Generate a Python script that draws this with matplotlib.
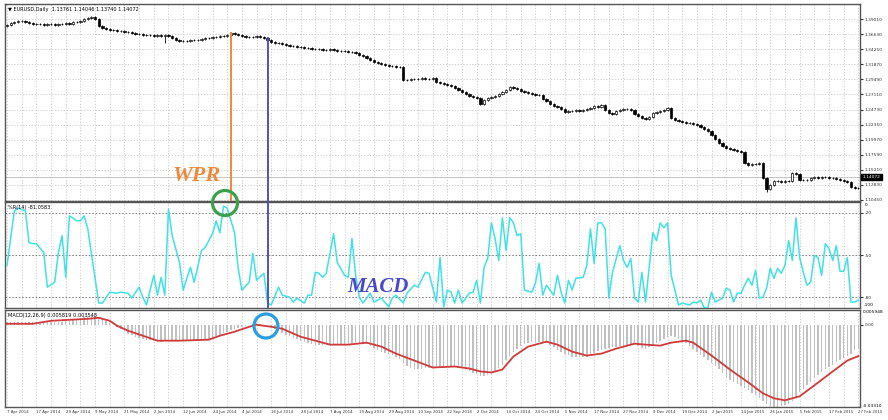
import numpy as np
import matplotlib
matplotlib.use("Agg")
import matplotlib.pyplot as plt
from matplotlib.patches import Circle
from matplotlib.transforms import blended_transform_factory

# --- price data (daily closes) ---
closes = [
    1.3806, 1.3838, 1.3854, 1.3869, 1.3869, 1.3854, 1.3838, 1.3822, 1.3822, 1.3822,
    1.3806, 1.3822, 1.3822, 1.3806, 1.3822, 1.3822, 1.3838, 1.3822, 1.3854, 1.3854,
    1.3869, 1.3901, 1.3917, 1.3933, 1.3901, 1.3791, 1.3759, 1.3743, 1.3727, 1.3727,
    1.3712, 1.3712, 1.3696, 1.3696, 1.3680, 1.3664, 1.3664, 1.3649, 1.3649, 1.3649,
    1.3633, 1.3649, 1.3633, 1.3649, 1.3633, 1.3601, 1.3570, 1.3554, 1.3554, 1.3554,
    1.3570, 1.3570, 1.3570, 1.3585, 1.3601, 1.3601, 1.3617, 1.3617, 1.3633, 1.3633,
    1.3649, 1.3680, 1.3664, 1.3649, 1.3633, 1.3617, 1.3617, 1.3617, 1.3633, 1.3617,
    1.3601, 1.3570, 1.3538, 1.3522, 1.3522, 1.3506, 1.3491, 1.3475, 1.3475, 1.3459,
    1.3459, 1.3443, 1.3443, 1.3428, 1.3428, 1.3428, 1.3412, 1.3412, 1.3428, 1.3412,
    1.3396, 1.3396, 1.3396, 1.3380, 1.3380, 1.3364, 1.3333, 1.3317, 1.3285, 1.3254,
    1.3222, 1.3206, 1.3191, 1.3175, 1.3159, 1.3159, 1.3143, 1.3143, 1.2938, 1.2938,
    1.2954, 1.2954, 1.2954, 1.2970, 1.2954, 1.2954, 1.2970, 1.2907, 1.2891, 1.2875,
    1.2860, 1.2844, 1.2812, 1.2781, 1.2749, 1.2717, 1.2686, 1.2670, 1.2654, 1.2560,
    1.2623, 1.2654, 1.2670, 1.2686, 1.2717, 1.2749, 1.2781, 1.2828, 1.2812, 1.2796,
    1.2765, 1.2749, 1.2733, 1.2717, 1.2702, 1.2702, 1.2639, 1.2607, 1.2560, 1.2528,
    1.2512, 1.2481, 1.2433, 1.2449, 1.2449, 1.2465, 1.2449, 1.2465, 1.2481, 1.2497,
    1.2528, 1.2512, 1.2544, 1.2465, 1.2418, 1.2402, 1.2449, 1.2465, 1.2481, 1.2481,
    1.2465, 1.2402, 1.2370, 1.2339, 1.2323, 1.2355, 1.2418, 1.2433, 1.2449, 1.2465,
    1.2497, 1.2339, 1.2307, 1.2291, 1.2276, 1.2260, 1.2260, 1.2244, 1.2228, 1.2197,
    1.2165, 1.2134, 1.2071, 1.2007, 1.1944, 1.1897, 1.1865, 1.1850, 1.1834, 1.1818,
    1.1802, 1.1629, 1.1597, 1.1613, 1.1613, 1.1629, 1.1392, 1.1218, 1.1281, 1.1345,
    1.1345, 1.1329, 1.1345, 1.1345, 1.1471, 1.1455, 1.1360, 1.1360, 1.1360, 1.1392,
    1.1408, 1.1392, 1.1408, 1.1408, 1.1392, 1.1392, 1.1376, 1.1360, 1.1345, 1.1329,
    1.1250, 1.1234, 1.1234,
]
first_open = 1.3790
long_wick_bars = [43, 207]
long_wick_lows = [1.3522, 1.1170]
bid_price = 1.14072

price_labels = ["1.39010", "1.36630", "1.34250", "1.31870", "1.29490", "1.27110", "1.24730",
                "1.22350", "1.19970", "1.17590", "1.15210", "1.12830", "1.10450"]

date_labels = ["7 Apr 2014", "17 Apr 2014", "29 Apr 2014", "9 May 2014", "21 May 2014",
               "2 Jun 2014", "12 Jun 2014", "24 Jun 2014", "4 Jul 2014", "16 Jul 2014",
               "28 Jul 2014", "7 Aug 2014", "19 Aug 2014", "29 Aug 2014", "10 Sep 2014",
               "22 Sep 2014", "2 Oct 2014", "14 Oct 2014", "24 Oct 2014", "5 Nov 2014",
               "17 Nov 2014", "27 Nov 2014", "9 Dec 2014", "19 Dec 2014", "2 Jan 2015",
               "14 Jan 2015", "26 Jan 2015", "5 Feb 2015", "17 Feb 2015", "27 Feb 2015"]

# --- Williams %R (bar, value) ---
wpr_bars = [0, 2, 3, 5, 6, 7, 8, 10, 11, 13, 14, 15, 16, 17, 19, 20, 21, 22, 25, 26,
            28, 30, 31, 33, 34, 36, 37, 38, 40, 41, 42, 43, 44, 45, 47, 48, 49, 50, 51, 53,
            54, 56, 57, 58, 59, 60, 62, 63, 64, 66, 67, 68, 70, 71, 72, 74, 75, 77, 78, 79,
            81, 82, 83, 84, 85, 86, 87, 89, 90, 92, 93, 94, 95, 96, 97, 99, 100, 102, 104, 105,
            106, 108, 109, 111, 112, 114, 115, 117, 118, 119, 120, 121, 122, 123, 124, 125, 126, 127, 128, 129,
            130, 131, 132, 133, 134, 135, 136, 137, 138, 139, 140, 141, 143, 144, 145, 146, 147, 149, 150, 151,
            152, 153, 154, 155, 157, 158, 159, 160, 161, 162, 163, 164, 165, 167, 168, 169, 170, 171, 172, 173,
            174, 175, 176, 177, 178, 179, 180, 181, 183, 184, 186, 187, 188, 189, 190, 191, 192, 193, 194, 195,
            196, 197, 198, 199, 200, 201, 202, 203, 204, 205, 206, 207, 208, 209, 210, 211, 212, 213, 214, 215,
            216, 217, 218, 219, 220, 221, 222, 223, 224, 225, 226, 227, 228, 229, 230, 231, 232]
wpr_vals = [-57.4, -18.6, -16.5, -18.6, -41.2, -41.9, -41.9, -48.2, -72.9, -69.4, -48.2, -36.2, -65.9, -22.1, -25.6, -25.6, -22.1, -31.3, -84.2, -84.2,
            -76.5, -77.2, -76.5, -77.2, -80.7, -72.9, -80.0, -85.6, -64.5, -78.6, -65.9, -78.6, -17.2, -36.2, -55.3, -75.0, -66.6, -58.8, -69.4, -46.8,
            -44.7, -34.8, -25.6, -34.1, -15.1, -16.5, -34.1, -59.5, -75.0, -69.4, -48.9, -68.0, -63.0, -84.2, -85.6, -72.9, -78.6, -80.0, -83.5, -80.7,
            -84.2, -78.6, -78.6, -62.3, -63.0, -65.9, -63.0, -34.8, -55.3, -64.5, -65.9, -38.3, -64.5, -80.0, -84.2, -77.2, -83.5, -80.7, -87.0, -80.7,
            -78.6, -84.2, -77.2, -71.5, -72.9, -62.3, -63.0, -83.5, -51.8, -87.0, -75.0, -76.5, -84.2, -75.0, -84.2, -80.7, -77.2, -76.5, -68.0, -84.2,
            -58.8, -52.5, -27.1, -38.3, -53.9, -23.5, -46.8, -23.5, -27.1, -36.2, -34.8, -75.0, -76.5, -70.1, -56.0, -78.6, -71.5, -78.6, -64.5, -76.5,
            -84.2, -68.0, -75.0, -66.6, -65.9, -57.4, -31.3, -56.0, -27.1, -27.1, -31.3, -80.7, -62.3, -43.3, -53.9, -58.8, -52.5, -80.7, -83.5, -62.3,
            -83.5, -58.8, -34.1, -39.8, -27.1, -30.6, -27.1, -64.5, -85.6, -84.2, -85.6, -83.5, -84.2, -82.1, -87.5, -87.5, -76.5, -83.5, -82.1, -80.7,
            -73.6, -75.0, -83.5, -77.2, -77.2, -71.5, -66.6, -71.5, -60.9, -80.7, -80.0, -73.6, -59.5, -66.6, -59.5, -63.0, -57.4, -39.8, -53.9, -23.5,
            -51.8, -62.3, -71.5, -69.4, -50.3, -51.8, -64.5, -41.9, -45.4, -53.9, -43.3, -61.6, -61.6, -51.8, -83.5, -83.5, -82.1]

# --- MACD main (histogram, one per bar) and signal (bar, value) ---
macd_hist = [
    0.0010, 0.0011, 0.0012, 0.0012, 0.0013, 0.0012, 0.0012, 0.0011, 0.0011, 0.0010,
    0.0010, 0.0010, 0.0011, 0.0011, 0.0012, 0.0013, 0.0014, 0.0016,
    0.0020, 0.0024, 0.0028, 0.0031, 0.0034, 0.0036, 0.0035, 0.0032, 0.0024, 0.0016, 0.0008, 0.0000,
    -0.0008, -0.0016, -0.0026, -0.0036, -0.0042, -0.0048, -0.0052, -0.0056, -0.0060, -0.0063, -0.0066, -0.0068,
    -0.0068, -0.0067, -0.0066, -0.0065, -0.0064, -0.0064, -0.0063, -0.0063, -0.0062, -0.0062, -0.0061, -0.0061, -0.0060, -0.0060,
    -0.0054, -0.0047, -0.0040, -0.0034, -0.0028, -0.0022, -0.0016, -0.0012, -0.0008, -0.0004, 0.0000, 0.0004, 0.0008,
    0.0004, 0.0000, -0.0004, -0.0008, -0.0016, -0.0024, -0.0032, -0.0040, -0.0046, -0.0052, -0.0058, -0.0064,
    -0.0068, -0.0072, -0.0076, -0.0080, -0.0080, -0.0080, -0.0080, -0.0080, -0.0079, -0.0080, -0.0080, -0.0080,
    -0.0080, -0.0079, -0.0078, -0.0077, -0.0076, -0.0076,
    -0.0084, -0.0092, -0.0100, -0.0108, -0.0112, -0.0118, -0.0122, -0.0128, -0.0136, -0.0152, -0.0166, -0.0176, -0.0180,
    -0.0180, -0.0178, -0.0176, -0.0174, -0.0172, -0.0170, -0.0168, -0.0166, -0.0164, -0.0164, -0.0164,
    -0.0170, -0.0176, -0.0182, -0.0188, -0.0194, -0.0200, -0.0208, -0.0206, -0.0204, -0.0200,
    -0.0188, -0.0174, -0.0160, -0.0142, -0.0124, -0.0108, -0.0096, -0.0086, -0.0078, -0.0072,
    -0.0070, -0.0069, -0.0068, -0.0070, -0.0072, -0.0080, -0.0090, -0.0100,
    -0.0108, -0.0116, -0.0122, -0.0128, -0.0130, -0.0130, -0.0129, -0.0128,
    -0.0122, -0.0114, -0.0106, -0.0100, -0.0096, -0.0092, -0.0090, -0.0088,
    -0.0086, -0.0084, -0.0082, -0.0080, -0.0080, -0.0086, -0.0092, -0.0096,
    -0.0088, -0.0080, -0.0072, -0.0064, -0.0056, -0.0050, -0.0044,
    -0.0048, -0.0056, -0.0064, -0.0072, -0.0084, -0.0096,
    -0.0108, -0.0120, -0.0130, -0.0140, -0.0152, -0.0166, -0.0180, -0.0194, -0.0210, -0.0224,
    -0.0232, -0.0240, -0.0248, -0.0256, -0.0264, -0.0274, -0.0284, -0.0296, -0.0308, -0.0318, -0.0326, -0.0330,
    -0.0329, -0.0327, -0.0324, -0.0320, -0.0306, -0.0290, -0.0272, -0.0258, -0.0244, -0.0230, -0.0216,
    -0.0204, -0.0192, -0.0180, -0.0170, -0.0160, -0.0150, -0.0142, -0.0134, -0.0124, -0.0116, -0.0100, -0.0096,
]
signal_bars = [0, 7, 12, 17, 22, 25, 28, 30, 33, 37, 41, 47, 55, 58, 62, 66, 68, 72, 75, 80,
               84, 88, 93, 98, 102, 106, 111, 116, 122, 126, 129, 132, 135, 138, 142, 147, 150, 154, 158, 162,
               166, 171, 174, 178, 181, 185, 187, 192, 197, 202, 206, 209, 212, 216, 220, 225, 229, 232]
signal_vals = [0.0004, 0.0004, 0.0016, 0.0020, 0.0024, 0.0028, 0.0016, -0.0004, -0.0024, -0.0044,
               -0.0064, -0.0064, -0.0060, -0.0044, -0.0028, -0.0008, 0.0000, -0.0008, -0.0016, -0.0048,
               -0.0064, -0.0080, -0.0080, -0.0072, -0.0088, -0.0116, -0.0144, -0.0172, -0.0168, -0.0176,
               -0.0188, -0.0192, -0.0180, -0.0128, -0.0088, -0.0068, -0.0080, -0.0108, -0.0124, -0.0116,
               -0.0096, -0.0076, -0.0080, -0.0084, -0.0072, -0.0064, -0.0072, -0.0124, -0.0180, -0.0232,
               -0.0276, -0.0296, -0.0304, -0.0288, -0.0244, -0.0188, -0.0144, -0.0126]

W, H = 888, 420


def px_rect(x0, y0, x1, y1):
    return [x0 / W, 1 - y1 / H, (x1 - x0) / W, (y1 - y0) / H]


fig = plt.figure(figsize=(W / 100, H / 100), dpi=100)
ax = fig.add_axes(px_rect(5, 4, 860, 201))
ax_w = fig.add_axes(px_rect(5, 202, 860, 308), sharex=ax)
ax_m = fig.add_axes(px_rect(5, 310, 860, 407), sharex=ax)

n = len(closes)
bars = np.arange(n)
c = np.array(closes)
o = np.r_[first_open, c[:-1]]
wick = 0.0012
hi = np.maximum(o, c) + wick
lo = np.minimum(o, c) - wick
for b, v in zip(long_wick_bars, long_wick_lows):
    lo[b] = v

lab_fs = 3.2
grid_kw = dict(color="#c8c8c8", linestyle=(0, (1.5, 2)), linewidth=0.6)
for a in (ax, ax_w, ax_m):
    a.set_facecolor("white")
    for s in a.spines.values():
        s.set_color("#555555")
        s.set_linewidth(1.0)
    a.yaxis.tick_right()
    a.tick_params(axis="y", labelsize=lab_fs, length=2, pad=1.2, colors="#333333")
    a.tick_params(axis="x", length=0, labelbottom=False)
    a.set_xticks(np.arange(0, n, 4))
    a.grid(axis="x", **grid_kw)
    a.set_axisbelow(True)
ax.set_xlim(-0.55, 232.45)

# candles
body_h = np.maximum(np.abs(c - o), 0.0003)
face = np.where(c >= o, "white", "black")
ax.vlines(bars, lo, hi, color="black", linewidth=0.6, zorder=2)
ax.bar(bars, body_h, bottom=np.minimum(o, c), width=0.62, color=face,
       edgecolor="black", linewidth=0.5, zorder=3)
ax.set_ylim(1.1029, 1.4138)
ax.set_yticks([float(p) for p in price_labels])
ax.set_yticklabels(price_labels)
ax.grid(axis="y", **grid_kw)
ax.axhline(bid_price, color="#bbbbbb", linewidth=0.6, zorder=1)
tr = blended_transform_factory(ax.transAxes, ax.transData)
ax.text(1.003, bid_price, f"{bid_price:.5f}", transform=tr, fontsize=lab_fs, color="white",
        va="center", ha="left", bbox=dict(boxstyle="square,pad=0.25", fc="black", ec="black"))
ax.text(0.004, 0.985, "\u25bc EURUSD,Daily  1.13761 1.14046 1.13740 1.14072",
        transform=ax.transAxes, fontsize=3.6, va="top", ha="left")

# WPR
ax_w.plot(wpr_bars, wpr_vals, color="#40e0e8", linewidth=1.1, zorder=3)
ax_w.set_ylim(-87.75, -12.24)
for lvl in (-20, -50, -80):
    ax_w.axhline(lvl, color="#707070", linestyle=(0, (2, 2)), linewidth=0.6, zorder=1)
ax_w.set_yticks([-20, -50, -80])
ax_w.set_yticklabels(["-20", "-50", "-80"])
ax_w.text(1.005, 0.97, "0", transform=ax_w.transAxes, fontsize=lab_fs, va="center", ha="left")
ax_w.text(1.005, 0.03, "-100", transform=ax_w.transAxes, fontsize=lab_fs, va="center", ha="left")
ax_w.text(0.004, 0.97, "%R(14) -81.0583", transform=ax_w.transAxes, fontsize=3.6, va="top", ha="left")

# MACD
ax_m.bar(bars, macd_hist, width=0.4, color="#c0c0c0", zorder=2)
ax_m.plot(signal_bars, signal_vals, color="#d03a3a", linewidth=1.3, zorder=3)
ax_m.set_ylim(-0.03310, 0.005948)
ax_m.set_yticks([0.0])
ax_m.set_yticklabels(["0.00"])
ax_m.text(1.003, 0.975, "0.005948", transform=ax_m.transAxes, fontsize=lab_fs, va="center", ha="left")
ax_m.text(1.003, 0.015, "-0.03310", transform=ax_m.transAxes, fontsize=lab_fs, va="center", ha="left")
ax_m.text(0.004, 0.97, "MACD(12,26,9) 0.005819 0.003548", transform=ax_m.transAxes,
          fontsize=3.6, va="top", ha="left")
ax_m.tick_params(axis="x", labelbottom=True, labelsize=2.8, pad=2.5, colors="#333333")
ax_m.set_xticklabels([date_labels[i // 8] if i % 8 == 0 else "" for i in range(0, n, 4)])
for lab in ax_m.get_xticklabels():
    lab.set_ha("left")

# annotations
orange, blue = "#f0883a", "#5050cc"
ax.vlines(61, -1, hi[61], color=orange, linewidth=1.4, zorder=4)
ax.vlines(71, -1, hi[71], color=blue, linewidth=1.4, zorder=4)
ax_w.axvline(71, color=blue, linewidth=1.4, zorder=4)

fig.text(172 / W, 1 - 176 / H, "WPR", color=orange, fontsize=16, fontstyle="italic",
         fontweight="bold", family="Liberation Serif", va="center", ha="left")
fig.text(347 / W, 1 - 287 / H, "MACD", color="#4848c8", fontsize=15, fontstyle="italic",
         fontweight="bold", family="Liberation Serif", va="center", ha="left")

fig.add_artist(Circle((225 / 100, (H - 203) / 100), 0.125, transform=fig.dpi_scale_trans,
                      fill=False, edgecolor="#3aa04a", linewidth=2.3))
fig.add_artist(Circle((266 / 100, (H - 326) / 100), 0.12, transform=fig.dpi_scale_trans,
                      fill=False, edgecolor="#2a9ee0", linewidth=2.3))

fig.savefig("out.png", dpi=100)
